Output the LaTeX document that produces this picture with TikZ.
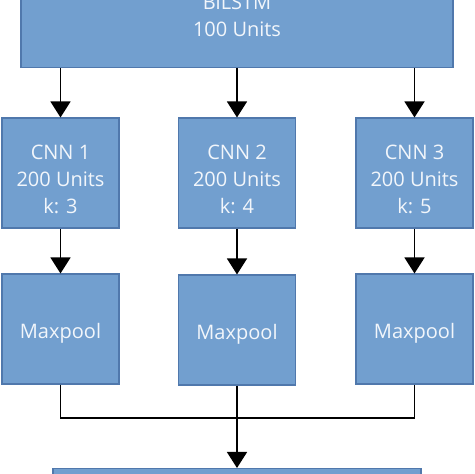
\documentclass[tikz,border=0pt]{standalone}
\usepackage{fontspec}
\setmainfont{Open Sans}
\usetikzlibrary{arrows.meta}

\definecolor{boxfill}{RGB}{114,159,207}
\definecolor{boxline}{RGB}{80,120,172}
\definecolor{boxtext}{RGB}{242,246,251}
\newcommand{\lift}[1]{\rule{0pt}{#1}}

\begin{document}
\begin{tikzpicture}[x=0.75pt,y=0.75pt,
    layer/.style={draw=boxline,fill=boxfill,text=boxtext,line width=0.8pt,
      minimum width=87.75pt,minimum height=82.5pt,inner sep=0pt,align=center,
      font=\fontsize{15}{20.25}\selectfont},
    arr/.style={line width=1.1pt,-{Triangle[length=12pt,width=15pt]}},
    wire/.style={line width=1.1pt}]
          \useasboundingbox (0,0) rectangle (474,474);
          \clip (0,0) rectangle (474,474);
          % top layer, cut by the frame
          \node[layer,minimum width=324pt,anchor=south] (bilstm) at (237,406) {\lift{16pt}BiLSTM\\100 Units};
          % convolutions
          \node[layer] (cnn1) at (60.5,301) {\lift{21pt}CNN 1\\200 Units\\k: 3};
          \node[layer] (cnn2) at (237,301) {\lift{21pt}CNN 2\\200 Units\\k: 4};
          \node[layer] (cnn3) at (414.5,301) {\lift{21pt}CNN 3\\200 Units\\k: 5};
          % pooling
          \node[layer] (pool1) at (60.5,145) {\lift{17.4pt}Maxpool};
          \node[layer] (pool2) at (237,144) {\lift{17.4pt}Maxpool};
          \node[layer] (pool3) at (414.5,145) {\lift{17.4pt}Maxpool};
          % output layer, cut by the frame
          \node[layer,minimum width=276pt,minimum height=40pt,anchor=north] (out) at (237,6) {};
          \coordinate (join) at (237,56);
          \draw[arr] (cnn1.north |- bilstm.south) -- (cnn1.north);
          \draw[arr] (cnn2.north |- bilstm.south) -- (cnn2.north);
          \draw[arr] (cnn3.north |- bilstm.south) -- (cnn3.north);
          \draw[arr] (cnn1) -- (pool1);
          \draw[arr] (cnn2) -- (pool2);
          \draw[arr] (cnn3) -- (pool3);
          \draw[wire] (pool1.south) |- (pool3.south |- join) -- (pool3.south);
          \draw[arr] (pool2.south) -- (out.north);
        \end{tikzpicture}
\end{document}
